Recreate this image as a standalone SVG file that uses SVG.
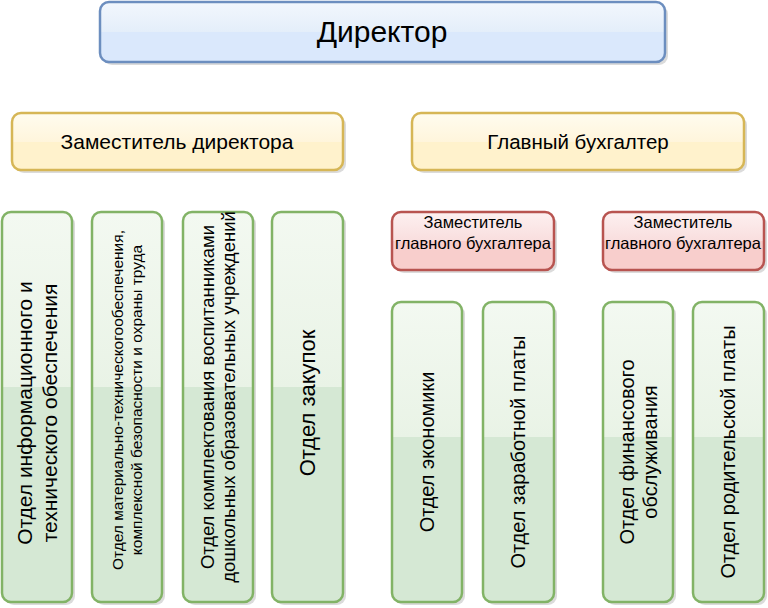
<svg xmlns="http://www.w3.org/2000/svg" width="768" height="608" viewBox="0 0 768 608">
<defs>
<linearGradient id="gb" x1="0" y1="0" x2="0" y2="1"><stop offset="0" stop-color="#f2f7fd"/><stop offset="0.5" stop-color="#e4eefa"/><stop offset="0.5" stop-color="#dae8fc"/><stop offset="1" stop-color="#dae8fc"/></linearGradient>
<linearGradient id="gy" x1="0" y1="0" x2="0" y2="1"><stop offset="0" stop-color="#fffcef"/><stop offset="0.5" stop-color="#fff5dc"/><stop offset="0.5" stop-color="#fff2cc"/><stop offset="1" stop-color="#fff2cc"/></linearGradient>
<linearGradient id="gr" x1="0" y1="0" x2="0" y2="1"><stop offset="0" stop-color="#fdf0f0"/><stop offset="0.5" stop-color="#f9dede"/><stop offset="0.5" stop-color="#f8cecc"/><stop offset="1" stop-color="#f8cecc"/></linearGradient>
<linearGradient id="gg" x1="0" y1="0" x2="0" y2="1"><stop offset="0" stop-color="#f3f9f1"/><stop offset="0.45" stop-color="#e9f3e6"/><stop offset="0.45" stop-color="#d5e8d4"/><stop offset="1" stop-color="#d5e8d4"/></linearGradient>
</defs>
<style>
rect{stroke-width:2.5}
.sh{fill:#999;opacity:.35;stroke:none}
.b{fill:url(#gb);stroke:#6c8ebf}
.y{fill:url(#gy);stroke:#d6b656}
.r{fill:url(#gr);stroke:#b85450}
.g{fill:url(#gg);stroke:#82b366}
text{font-family:"Liberation Sans",Arial,sans-serif;fill:#000;text-anchor:middle}
</style>
<g id="director"><rect class="sh" x="103" y="5" width="565" height="60" rx="9"/><rect class="b" x="100" y="2" width="565" height="60" rx="9"/><text x="382" y="42" font-size="30">Директор</text></g>
<g id="deputy"><rect class="sh" x="15" y="116" width="331" height="57" rx="9"/><rect class="y" x="12" y="113" width="331" height="57" rx="9"/><text x="177" y="149" font-size="21">Заместитель директора</text></g>
<g id="chief"><rect class="sh" x="415" y="116" width="332" height="57" rx="9"/><rect class="y" x="412" y="113" width="332" height="57" rx="9"/><text x="578" y="149" font-size="20.5">Главный бухгалтер</text></g>
<g id="d1"><rect class="sh" x="5" y="215" width="70" height="390" rx="9"/><rect class="g" x="2" y="212" width="70" height="390" rx="9"/><text transform="translate(37 413) rotate(-90)" font-size="21"><tspan x="0" y="-5">Отдел информационного и</tspan><tspan x="0" y="20">технического обеспечения</tspan></text></g>
<g id="d2"><rect class="sh" x="95" y="215" width="70" height="390" rx="9"/><rect class="g" x="92" y="212" width="70" height="390" rx="9"/><text transform="translate(127 400) rotate(-90)" font-size="15.5"><tspan x="0" y="-4">Отдел материально-техническогообеспечения,</tspan><tspan x="0" y="15">комплексной безопасности и охраны труда</tspan></text></g>
<g id="d3"><rect class="sh" x="186" y="215" width="70" height="390" rx="9"/><rect class="g" x="183" y="212" width="70" height="390" rx="9"/><text transform="translate(218 397) rotate(-90)" font-size="18.5"><tspan x="0" y="-4">Отдел комплектования воспитанниками</tspan><tspan x="0" y="17">дошкольных образовательных учреждений</tspan></text></g>
<g id="d4"><rect class="sh" x="275" y="215" width="71" height="390" rx="9"/><rect class="g" x="272" y="212" width="71" height="390" rx="9"/><text transform="translate(307 403) rotate(-90)" font-size="22"><tspan x="0" y="8">Отдел закупок</tspan></text></g>
<g id="z1"><rect class="sh" x="395" y="215" width="162" height="58" rx="9"/><rect class="r" x="392" y="212" width="162" height="58" rx="9"/><text font-size="16.5"><tspan x="473" y="228">Заместитель</tspan><tspan x="473" y="249">главного бухгалтера</tspan></text></g>
<g id="z2"><rect class="sh" x="606" y="215" width="161" height="58" rx="9"/><rect class="r" x="603" y="212" width="161" height="58" rx="9"/><text font-size="16.5"><tspan x="683" y="228">Заместитель</tspan><tspan x="683" y="249">главного бухгалтера</tspan></text></g>
<g id="e1"><rect class="sh" x="395" y="305" width="70" height="300" rx="9"/><rect class="g" x="392" y="302" width="70" height="300" rx="9"/><text transform="translate(427 452) rotate(-90)" font-size="20"><tspan x="0" y="7">Отдел экономики</tspan></text></g>
<g id="e2"><rect class="sh" x="486" y="305" width="71" height="300" rx="9"/><rect class="g" x="483" y="302" width="71" height="300" rx="9"/><text transform="translate(518 452) rotate(-90)" font-size="20"><tspan x="0" y="7">Отдел заработной платы</tspan></text></g>
<g id="e3"><rect class="sh" x="606" y="305" width="70" height="300" rx="9"/><rect class="g" x="603" y="302" width="70" height="300" rx="9"/><text transform="translate(638 452) rotate(-90)" font-size="20"><tspan x="0" y="-4">Отдел финансового</tspan><tspan x="0" y="19">обслуживания</tspan></text></g>
<g id="e4"><rect class="sh" x="696" y="305" width="71" height="300" rx="9"/><rect class="g" x="693" y="302" width="71" height="300" rx="9"/><text transform="translate(728 452) rotate(-90)" font-size="20"><tspan x="0" y="7">Отдел родительской платы</tspan></text></g>
<g id="connectors"></g>
</svg>
